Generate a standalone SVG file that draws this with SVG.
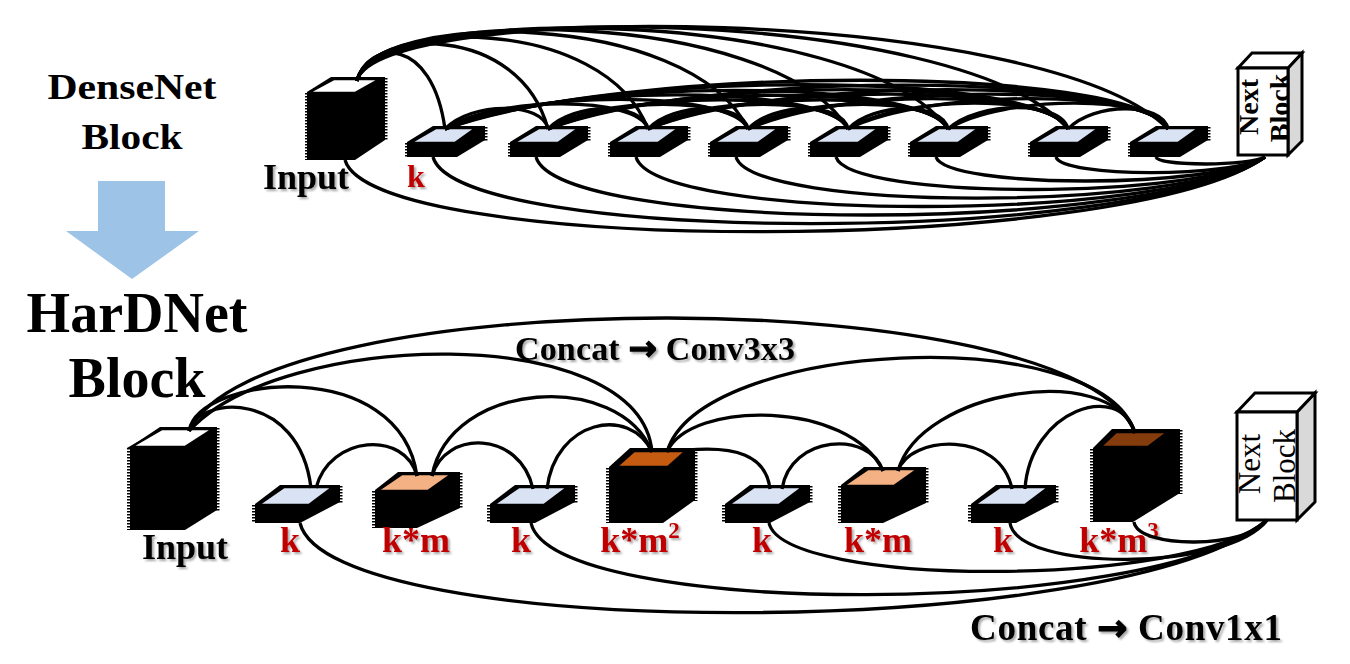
<svg xmlns="http://www.w3.org/2000/svg" xmlns:xlink="http://www.w3.org/1999/xlink" width="1350" height="664" viewBox="0 0 1350 664">
<style>
.c{fill:none;stroke:#000;stroke-width:3.3}
.t{font-family:"Liberation Serif","Times New Roman",serif;font-weight:bold;fill:#000}
.n{font-family:"Liberation Serif","Times New Roman",serif;font-weight:normal;fill:#000}
.ar{font-family:"DejaVu Sans",sans-serif;font-weight:bold;stroke:#000;stroke-width:1.3}
.red{fill:#c00000}
.saw{stroke:#000;stroke-width:5;stroke-dasharray:1.6 1.4}
.face{stroke:#000;stroke-width:2.4;stroke-linejoin:miter}
.box{stroke:#000;stroke-width:3;stroke-linejoin:miter}
</style>
<defs>
<filter id="sh" x="-10%" y="-10%" width="130%" height="140%">
<feDropShadow dx="2" dy="2" stdDeviation="1.3" flood-color="#000" flood-opacity="0.35"/>
</filter>
<g id="thinT">
<polygon points="2,15 28,-1 80,-1 80,13 52,30 2,30" fill="#000"/>
<line x1="2.5" y1="16" x2="2.5" y2="30" class="saw"/>
<line x1="80" y1="0" x2="80" y2="14" class="saw"/>
<polygon points="5,16 31,1 71,1 50,16" class="face"/>
</g>
<g id="thinB">
<polygon points="3,18 28,-1 88,-1 88,16 48,37 3,37" fill="#000"/>
<line x1="2.5" y1="19" x2="2.5" y2="37" class="saw"/>
<line x1="88" y1="0" x2="88" y2="17" class="saw"/>
<polygon points="6,19 32,1 81,1 57,19" class="face"/>
</g>
<g id="med">
<polygon points="3,17 26,-1 88,-1 88,35 45,55 3,55" fill="#000"/>
<line x1="2.5" y1="18" x2="2.5" y2="55" class="saw"/>
<line x1="88" y1="0" x2="88" y2="36" class="saw"/>
<polygon points="5,18 30,1 80,1 56,18" class="face"/>
</g>
<g id="big">
<polygon points="3,18 24,-1 89,-1 89,51 57,74 3,74" fill="#000"/>
<line x1="2.5" y1="19" x2="2.5" y2="74" class="saw"/>
<line x1="89" y1="0" x2="89" y2="52" class="saw"/>
<polygon points="10,18 28,2 80,2 62,18" class="face"/>
</g>
<g id="big3">
<polygon points="3,18 22,-1 90,-1 90,63 43,92 3,92" fill="#000"/>
<line x1="2.5" y1="19" x2="2.5" y2="92" class="saw"/>
<line x1="90" y1="0" x2="90" y2="64" class="saw"/>
<polygon points="10,17 26,2 78,2 58,17" class="face"/>
</g>
<g id="inT">
<polygon points="2,14 26,-1 80,-1 80,62 50,82 2,82" fill="#000"/>
<line x1="2.5" y1="15" x2="2.5" y2="82" class="saw"/>
<line x1="80" y1="0" x2="80" y2="63" class="saw"/>
<polygon points="3,15 29,1 75,1 50,15" class="face"/>
</g>
<g id="inB">
<polygon points="3,19 33,-1 90,-1 90,82 58,102 3,102" fill="#000"/>
<line x1="2.5" y1="20" x2="2.5" y2="102" class="saw"/>
<line x1="90" y1="0" x2="90" y2="83" class="saw"/>
<polygon points="4,19 35,1 86,1 58,19" class="face"/>
</g>
</defs>
<rect width="1350" height="664" fill="#fff"/>

<g id="titles">
<text class="t" x="132" y="99" font-size="36" text-anchor="middle" textLength="169" lengthAdjust="spacingAndGlyphs">DenseNet</text>
<text class="t" x="132" y="149" font-size="36" text-anchor="middle" textLength="101" lengthAdjust="spacingAndGlyphs">Block</text>
<polygon points="98,181 165,181 165,231 199,231 132,279 66,231 98,231" fill="#9dc3e6"/>
<text class="t" x="137" y="332" font-size="56" text-anchor="middle">HarDNet</text>
<text class="t" x="137" y="397" font-size="56" text-anchor="middle">Block</text>
</g>

<!-- DenseNet nodes -->
<g id="d-input"><use href="#inT" x="305" y="78" fill="#fff"/><text class="t" x="263" y="189" font-size="36" filter="url(#sh)">Input</text></g>
<g id="d-l1"><use href="#thinT" x="405" y="127" fill="#dae3f3"/><text class="t red" x="407" y="187" font-size="32" filter="url(#sh)">k</text></g>
<g id="d-l2"><use href="#thinT" x="508" y="127" fill="#dae3f3"/></g>
<g id="d-l3"><use href="#thinT" x="608" y="127" fill="#dae3f3"/></g>
<g id="d-l4"><use href="#thinT" x="708" y="127" fill="#dae3f3"/></g>
<g id="d-l5"><use href="#thinT" x="808" y="127" fill="#dae3f3"/></g>
<g id="d-l6"><use href="#thinT" x="908" y="127" fill="#dae3f3"/></g>
<g id="d-l7"><use href="#thinT" x="1028" y="127" fill="#dae3f3"/></g>
<g id="d-l8"><use href="#thinT" x="1128" y="127" fill="#dae3f3"/></g>
<g id="d-next">
<polygon points="1288,68 1302,53 1302,141 1288,155" fill="#d9d9d9" class="box"/>
<polygon points="1238,68 1252,53 1302,53 1288,68" fill="#fff" class="box"/>
<rect x="1238" y="68" width="50" height="87" fill="#fff" class="box"/>
<text class="t" font-size="28" text-anchor="middle" transform="translate(1258,107) rotate(-90)">Next</text>
<text class="t" font-size="28" text-anchor="middle" transform="translate(1289,108) rotate(-90)">Block</text>
</g>

<!-- HarDNet nodes -->
<g id="h-input"><use href="#inB" x="127" y="428" fill="#fff"/><text class="t" x="142" y="559" font-size="36" filter="url(#sh)">Input</text></g>
<g id="h-l1"><use href="#thinB" x="252" y="486" fill="#dae3f3"/><text class="t red" x="290" y="552" font-size="36" text-anchor="middle" filter="url(#sh)">k</text></g>
<g id="h-l2"><use href="#med" x="372" y="473" fill="#f4b183"/><text class="t red" x="416" y="552" font-size="36" text-anchor="middle" filter="url(#sh)">k*m</text></g>
<g id="h-l3"><use href="#thinB" x="487" y="486" fill="#dae3f3"/><text class="t red" x="521" y="552" font-size="36" text-anchor="middle" filter="url(#sh)">k</text></g>
<g id="h-l4"><use href="#big" x="606" y="449" fill="#c55a11"/><text class="t red" x="640" y="552" font-size="36" text-anchor="middle" filter="url(#sh)">k*m<tspan font-size="23" dy="-14">2</tspan></text></g>
<g id="h-l5"><use href="#thinB" x="722" y="486" fill="#dae3f3"/><text class="t red" x="762" y="552" font-size="36" text-anchor="middle" filter="url(#sh)">k</text></g>
<g id="h-l6"><use href="#med" x="838" y="468" fill="#f4b183"/><text class="t red" x="878" y="552" font-size="36" text-anchor="middle" filter="url(#sh)">k*m</text></g>
<g id="h-l7"><use href="#thinB" x="968" y="486" fill="#dae3f3"/><text class="t red" x="1003" y="552" font-size="36" text-anchor="middle" filter="url(#sh)">k</text></g>
<g id="h-l8"><use href="#big3" x="1090" y="430" fill="#843c0c"/><text class="t red" x="1119" y="552" font-size="36" text-anchor="middle" filter="url(#sh)">k*m<tspan font-size="23" dy="-14">3</tspan></text></g>
<g id="h-next">
<polygon points="1297,412 1315,393 1315,502 1297,520" fill="#d9d9d9" class="box"/>
<polygon points="1237,412 1255,393 1315,393 1297,412" fill="#fff" class="box"/>
<rect x="1237" y="412" width="60" height="108" fill="#fff" class="box"/>
<text class="n" font-size="31" text-anchor="middle" transform="translate(1260,464) rotate(-90)">Next</text>
<text class="n" font-size="31" text-anchor="middle" transform="translate(1295,466) rotate(-90)">Block</text>
</g>

<g id="labels">
<text class="t" x="515" y="360" font-size="34" textLength="280" filter="url(#sh)">Concat <tspan class="ar" font-size="34">→</tspan> Conv3x3</text>
<text class="t" x="970" y="640" font-size="37" textLength="312" filter="url(#sh)">Concat <tspan class="ar" font-size="36">→</tspan> Conv1x1</text>
</g>

<g id="connectors" class="c">
<!-- DenseNet: input arcs -->
<path d="M357 81 C368 40 432 35 445 129"/>
<path d="M357 81 C369 28 519 22 548 129"/>
<path d="M357 81 C370 18 604 14 648 129"/>
<path d="M357 81 C371 10 689 8 748 129"/>
<path d="M357 81 C372 6 774 6 848 129"/>
<path d="M357 81 C373 3 859 5 948 129"/>
<path d="M357 81 C374 1 961 4 1068 129"/>
<path d="M357 81 C375 0 1046 4 1168 129"/>
<!-- DenseNet: layer arcs -->
<path d="M445 129 C471 101.5 543 101.5 548 129"/>
<path d="M445 129 C496 95.5 638 95.5 648 129"/>
<path d="M445 129 C521 89.5 733 89.5 748 129"/>
<path d="M445 129 C546 83.5 828 83.5 848 129"/>
<path d="M445 129 C571 77.5 923 77.5 948 129"/>
<path d="M445 129 C601 70 1037 70 1068 129"/>
<path d="M445 129 C626 64 1132 64 1168 129"/>
<path d="M548 129 C573 102 643 102 648 129"/>
<path d="M548 129 C598 96 738 96 748 129"/>
<path d="M548 129 C623 90 833 90 848 129"/>
<path d="M548 129 C648 84 928 84 948 129"/>
<path d="M548 129 C678 76.5 1042 76.5 1068 129"/>
<path d="M548 129 C703 70.5 1137 70.5 1168 129"/>
<path d="M648 129 C673 102 743 102 748 129"/>
<path d="M648 129 C698 96 838 96 848 129"/>
<path d="M648 129 C723 90 933 90 948 129"/>
<path d="M648 129 C753 82.5 1047 82.5 1068 129"/>
<path d="M648 129 C778 76.5 1142 76.5 1168 129"/>
<path d="M748 129 C773 102 843 102 848 129"/>
<path d="M748 129 C798 96 938 96 948 129"/>
<path d="M748 129 C828 88.5 1052 88.5 1068 129"/>
<path d="M748 129 C853 82.5 1147 82.5 1168 129"/>
<path d="M848 129 C873 102 943 102 948 129"/>
<path d="M848 129 C903 94.5 1057 94.5 1068 129"/>
<path d="M848 129 C928 88.5 1152 88.5 1168 129"/>
<path d="M948 129 C978 100.5 1062 100.5 1068 129"/>
<path d="M948 129 C1003 94.5 1157 94.5 1168 129"/>
<path d="M1068 129 C1093 102 1163 102 1168 129"/>
<!-- DenseNet: to next block -->
<path d="M345 160 C373 256 1127 256 1265 157"/>
<path d="M433 157 C458 245.7 1140 245.7 1265 157"/>
<path d="M536 157 C558 234.3 1156 234.3 1265 157"/>
<path d="M636 157 C655 223 1171 223 1265 157"/>
<path d="M736 157 C752 211.7 1186 211.7 1265 157"/>
<path d="M836 157 C849 200.3 1201 200.3 1265 157"/>
<path d="M936 157 C946 189 1216 189 1265 157"/>
<path d="M1056 157 C1062 177.7 1234 177.7 1265 157"/>
<path d="M1156 157 C1159 166.3 1249 166.3 1265 157"/>
<!-- HarDNet: arcs -->
<path d="M189 431 C199 395 299 390 311 488"/>
<path d="M189 431 C199 375 400 355 417 476"/>
<path d="M189 431 C280 330 640 320 652 452"/>
<path d="M189 431 C260 280 1080 280 1135 433"/>
<path d="M316 488 C330 435 405 430 417 476"/>
<path d="M432 476 C445 430 520 430 533 489"/>
<path d="M432 476 C450 380 620 370 652 452"/>
<path d="M547 489 C555 420 630 405 652 452"/>
<path d="M688 450 C735 446 766 455 770 489"/>
<path d="M667 452 C690 400 850 400 883 471"/>
<path d="M782 489 C790 435 870 430 883 471"/>
<path d="M898 471 C910 435 1000 430 1012 489"/>
<path d="M898 471 C920 390 1110 360 1135 433"/>
<path d="M1025 489 C1030 410 1120 380 1135 433"/>
<path d="M667 452 C700 340 1100 320 1135 433"/>
<!-- HarDNet: to next block -->
<path d="M300 523 C329 643 1122 643 1267 520"/>
<path d="M531 523 C553 619 1157 619 1267 520"/>
<path d="M769 523 C784 588 1192 588 1267 520"/>
<path d="M1010 523 C1018 572 1228 572 1267 520"/>
<path d="M1134 522 C1138 549 1247 549 1267 520"/>
</g>
</svg>
